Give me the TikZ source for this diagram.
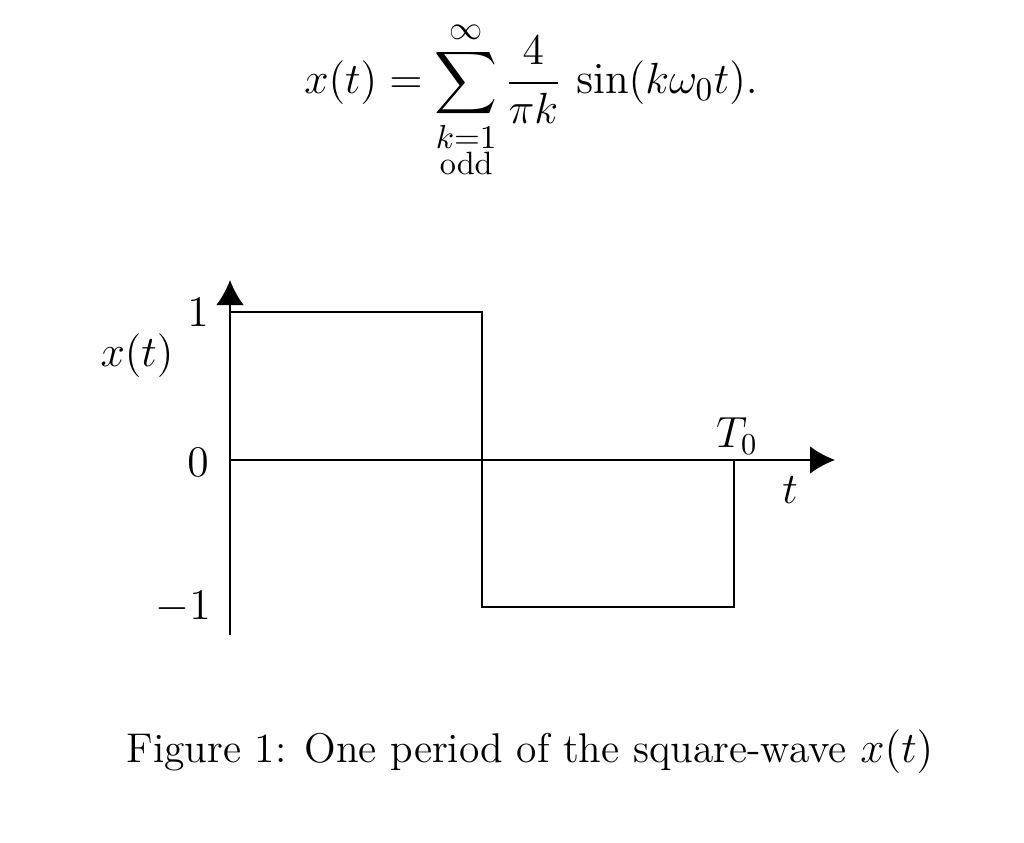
\documentclass[tikz,border=0pt]{standalone}
\usepackage{amsmath}
\usetikzlibrary{arrows.meta}
\begin{document}
\begin{tikzpicture}[x=0.0116cm,y=-0.0116cm,
  every node/.style={font=\fontsize{13.7}{16.5}\selectfont},
  axis/.style={semithick,-{Latex[length=2.9mm,width=3.2mm]}},
  wave/.style={line width=0.5pt}]
\useasboundingbox (0,0) rectangle (1024,843);
\node[font=\fontsize{15.2}{18}\selectfont] (eq) at (531,100) {$\displaystyle x(t)=\sum_{\substack{k=1\\\text{odd}}}^{\infty}\frac{4}{\pi k}\,\sin(k\omega_0 t).$};
\coordinate (o) at (230,460);
\coordinate (ybot) at (230,635);
\coordinate (ytop) at (230,280);
\coordinate (xend) at (835,460);
\draw[semithick] (ybot) -- (o);
\draw[axis] (o) -- (ytop);
\draw[axis] (o) -- (xend);
\coordinate (a) at (230,312);
\coordinate (b) at (482,312);
\coordinate (c) at (482,607);
\coordinate (d) at (734,607);
\coordinate (e) at (734,460);
\draw[wave] (a) -- (b) -- (c) -- (d) -- (e);
\node (l1) at (198,312) {$1$};
\node (l0) at (198,462) {$0$};
\node (lm) at (183,607) {$-1$};
\node (xt) at (137,356) {$x(t)$};
\node (T0) at (737,436) {$T_0$};
\node (t) at (790,490) {$t$};
\node (cap) at (530,752) {Figure 1: One period of the square-wave $x(t)$};
\end{tikzpicture}
\end{document}
